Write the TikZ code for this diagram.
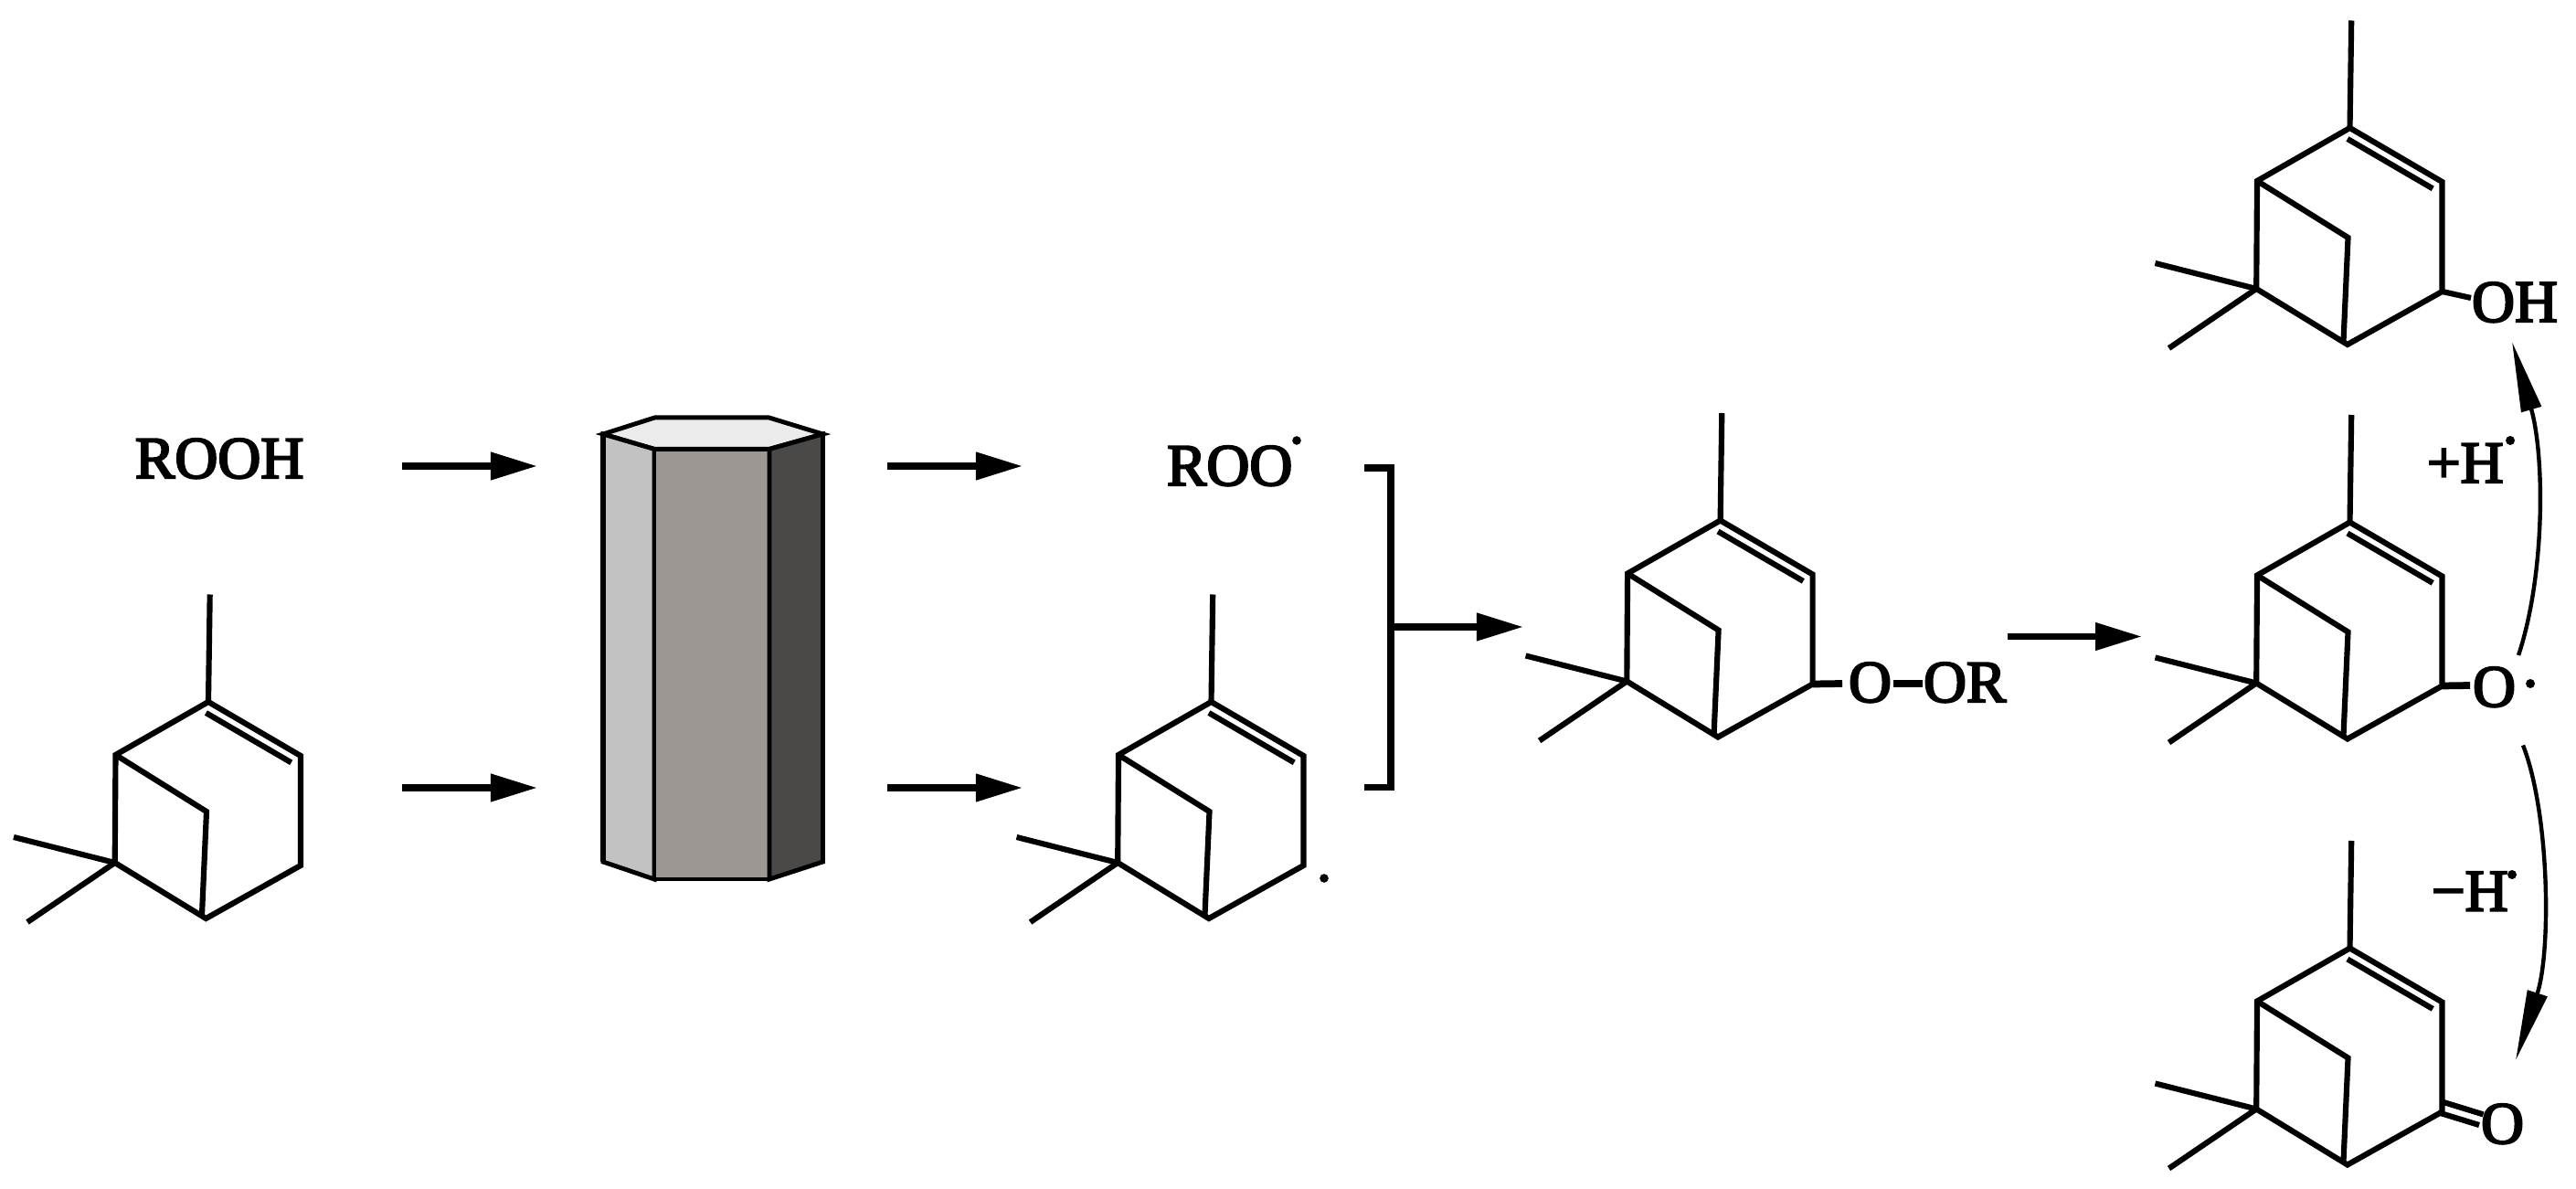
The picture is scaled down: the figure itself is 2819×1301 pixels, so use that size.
\documentclass[tikz,border=0pt]{standalone}
\usepackage{fontspec}
\setmainfont[RawFeature={embolden=3.5}]{Liberation Serif}
\usetikzlibrary{arrows.meta}
\tikzset{
  bond/.style={line width=1.75pt,line join=miter,line cap=butt},
  sidebond/.style={line width=2.2pt,line cap=butt},
  chemlabel/.style={anchor=base west,inner sep=0pt,outer sep=0pt,font=\fontsize{18.5pt}{20pt}\selectfont},
  rarrow/.style={line width=2.1pt,-{Triangle[length=0.51cm,width=0.29cm]}},
  carrow/.style={line width=1.25pt,-{Triangle[length=0.77cm,width=0.22cm]}},
  bracketline/.style={line width=2.1pt,line join=miter},
  edgeline/.style={draw=black,line width=1.4pt,line join=miter},
  radical/.style={fill=black},
  pinene/.pic={
    \coordinate (-top) at (1.7,-117.5);
    \coordinate (-c1) at (0,0);
    \coordinate (-c2) at (101,59);
    \coordinate (-c3) at (101,179);
    \coordinate (-c4) at (-2.6,237);
    \coordinate (-c5) at (-102.3,176);
    \coordinate (-c6) at (-101.5,58);
    \coordinate (-c7) at (-2,120);
    \coordinate (-c4i) at (-7,233);
    \coordinate (-me1) at (-213,148);
    \coordinate (-me2) at (-198,241);
    \draw[bond] (-c1) -- (-c2) -- (-c3) -- (-c4) -- (-c5) -- (-c6) -- cycle;
    \draw[bond] (-c6) -- (-c7) -- (-c4i);
    \draw[bond] (-c1) -- (-top);
    \draw[bond] (-c5) -- (-me1);
    \draw[bond] (-c5) -- (-me2);
    \draw[bond] (-2.6,12) -- (90.7,66.4);
  }
}
\begin{document}
\begin{tikzpicture}[x=0.01cm,y=-0.01cm]
\useasboundingbox (0,0) rectangle (2819,1301);
% molecules
\pic (ma) at (228,768) {pinene};
\pic (mb) at (1325.5,768) {pinene};
\pic (mc) at (1882.6,569.5) {pinene};
\pic (md) at (2571.5,140) {pinene};
\pic (me) at (2571.5,571.5) {pinene};
\pic (mf) at (2571.5,1037.5) {pinene};
% column
\coordinate (tl) at (660,475);
\coordinate (tbl) at (717,456.8);
\coordinate (tbr) at (841,456.8);
\coordinate (tr) at (900.5,475);
\coordinate (fr) at (842,491.4);
\coordinate (fl) at (716,491.4);
\coordinate (bl) at (660,943);
\coordinate (bfl) at (716,962);
\coordinate (bfr) at (842,962);
\coordinate (br) at (900.5,943);
\path[fill=black!8,edgeline] (tl) -- (tbl) -- (tbr) -- (tr) -- (fr) -- (fl) -- cycle;
\path[fill=black!24,edgeline] (tl) -- (fl) -- (bfl) -- (bl) -- cycle;
\path[fill={rgb,255:red,156;green,151;blue,147},edgeline] (fl) -- (fr) -- (bfr) -- (bfl) -- cycle;
\path[fill={rgb,255:red,74;green,73;blue,71},edgeline] (fr) -- (tr) -- (br) -- (bfr) -- cycle;
\draw[line width=1.8pt] (tl) -- (bl);
% labels
\node[chemlabel] (rooh) at (148,523) {ROOH};
\node[chemlabel] (roo) at (1277,531) {ROO};
\node[chemlabel] (oa) at (2023,768) {O};
\node[chemlabel] (ob) at (2105,768) {OR};
\node[chemlabel] (oh) at (2705,352) {OH};
\node[chemlabel] (orad) at (2706,773) {O};
\node[chemlabel] (oket) at (2715,1251) {O};
\node[chemlabel] (plush) at (2656,528) {+H};
\node[chemlabel] (minush) at (2661,996.5) {−H};
% radical dots
\fill[radical] (1419,482) circle (4.8);
\fill[radical] (1449,961) circle (4.8);
\fill[radical] (2769,748) circle (5);
\fill[radical] (2747,482) circle (5);
\fill[radical] (2749,957) circle (5);
% substituent bonds
\coordinate (oaw) at (2016,748); \coordinate (oae) at (2072,748); \coordinate (obw) at (2104,748);
\draw[sidebond] (mc-c3) -- (oaw);
\draw[sidebond] (oae) -- (obw);
\coordinate (ohw) at (2704,326);
\draw[bond] (md-c3) -- (ohw);
\coordinate (oradw) at (2703,750);
\draw[sidebond] (me-c3) -- (oradw);
\coordinate (k1a) at (2670,1217.8); \coordinate (k1b) at (2713,1231);
\coordinate (k2a) at (2674,1206); \coordinate (k2b) at (2717.5,1219.4);
\draw[bond] (k1a) -- (k1b);
\draw[bond] (k2a) -- (k2b);
% straight arrows
\coordinate (a1s) at (440,510); \coordinate (a1e) at (588,510);
\coordinate (a2s) at (440,862); \coordinate (a2e) at (588,862);
\coordinate (a3s) at (971,510); \coordinate (a3e) at (1119,510);
\coordinate (a4s) at (971,862); \coordinate (a4e) at (1119,862);
\coordinate (a5s) at (1524,686); \coordinate (a5e) at (1667,686);
\coordinate (a6s) at (2197,696.5); \coordinate (a6e) at (2344,696.5);
\draw[rarrow] (a1s) -- (a1e);
\draw[rarrow] (a2s) -- (a2e);
\draw[rarrow] (a3s) -- (a3e);
\draw[rarrow] (a4s) -- (a4e);
\draw[rarrow] (a5s) -- (a5e);
\draw[rarrow] (a6s) -- (a6e);
% bracket
\coordinate (bt) at (1493,512); \coordinate (btc) at (1522,512);
\coordinate (bb) at (1493,861.5); \coordinate (bbc) at (1522,861.5);
\draw[bracketline] (bt) -- (btc) -- (bbc) -- (bb);
% curved arrows
\coordinate (c1s) at (2756,717); \coordinate (c1e) at (2749,374);
\coordinate (c2s) at (2761,815.5); \coordinate (c2e) at (2753,1160);
\draw[carrow] (c1s) .. controls (2785,630) and (2785,500) .. (c1e);
\draw[carrow] (c2s) .. controls (2790,890) and (2792,1040) .. (c2e);
\end{tikzpicture}
\end{document}
